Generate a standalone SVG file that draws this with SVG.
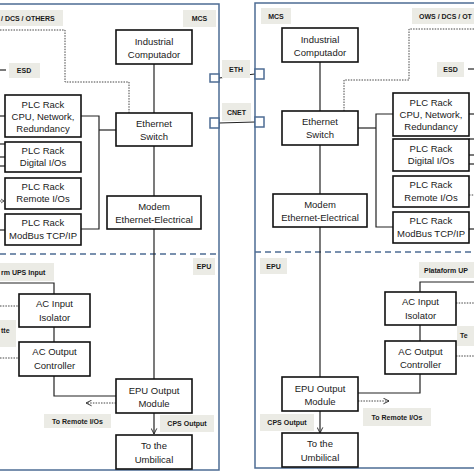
<svg xmlns="http://www.w3.org/2000/svg" width="474" height="474" viewBox="0 0 474 474">
<defs>
<style>
.box{fill:#fff;stroke:#111;stroke-width:1.6}
.lbl{fill:#ebebe5;stroke:none}
.t{font-family:"Liberation Sans",Arial,sans-serif;font-size:9.5px;fill:#1a1a1a;text-anchor:middle}
.tl{font-family:"Liberation Sans",Arial,sans-serif;font-size:7px;font-weight:bold;fill:#1a1a1a;text-anchor:middle}
.ln{fill:none;stroke:#222;stroke-width:1.2}
.dot{fill:none;stroke:#444;stroke-width:1;stroke-dasharray:1.5 1.2}
.panel{fill:none;stroke:#4d6c94;stroke-width:1.5}
.sep{fill:none;stroke:#4d6c94;stroke-width:1.5;stroke-dasharray:6 4}
.port{fill:#fff;stroke:#4d6c94;stroke-width:1.5}
</style>
<marker id="open" viewBox="0 0 10 10" refX="9" refY="5" markerWidth="7" markerHeight="7" orient="auto" markerUnits="userSpaceOnUse">
<path d="M1,1 L9,5 L1,9" fill="none" stroke="#222" stroke-width="1.3"/>
</marker>
</defs>
<rect width="474" height="474" fill="#fff"/>

<!-- panels -->
<g id="panels">
<rect class="panel" x="-5" y="4" width="224" height="466"/>
<rect class="panel" x="255" y="3" width="230" height="465"/>
<line class="sep" x1="0" y1="254" x2="219" y2="254"/>
<line class="sep" x1="255" y1="252" x2="474" y2="252"/>
</g>

<!-- connectors -->
<g id="connectors">
<!-- left panel -->
<path class="dot" d="M0,30 H65 V82 H129 V113"/>
<line class="ln" x1="0" y1="70" x2="6" y2="70"/>
<line class="ln" x1="154" y1="64" x2="154" y2="113"/>
<line class="ln" x1="154" y1="146" x2="154" y2="196"/>
<line class="ln" x1="154" y1="229" x2="154" y2="379"/>
<path class="ln" d="M81,116 H99 V229 H81"/>
<line class="ln" x1="99" y1="130" x2="116" y2="130"/>
<line class="ln" x1="0" y1="116" x2="5" y2="116"/>
<line class="ln" x1="0" y1="144" x2="5" y2="144"/>
<line class="ln" x1="0" y1="157" x2="5" y2="157"/>
<line class="ln" x1="0" y1="166" x2="5" y2="166"/>
<path class="dot" d="M0,201 H4"/>
<path d="M1,199 L4,201 L1,203" fill="none" stroke="#444" stroke-width="0.8"/>
<line class="ln" x1="0" y1="230" x2="5" y2="230"/>
<path class="ln" d="M0,283 H54 V294"/>
<line class="dot" x1="0" y1="306" x2="19" y2="306"/>
<line class="ln" x1="54" y1="327" x2="54" y2="342"/>
<line class="dot" x1="0" y1="358" x2="19" y2="358"/>
<path class="ln" d="M54,376 V396 H116"/>
<line class="dot" x1="116" y1="403" x2="86" y2="403" marker-end="url(#open)"/>
<line class="ln" x1="154" y1="413" x2="154" y2="434" marker-end="url(#open)"/>

<!-- right panel -->
<path class="dot" d="M474,29 H409 V80 H344 V111"/>
<line class="ln" x1="468" y1="69" x2="474" y2="69"/>
<line class="ln" x1="320" y1="62" x2="320" y2="111"/>
<line class="ln" x1="320" y1="145" x2="320" y2="194"/>
<line class="ln" x1="320" y1="227" x2="320" y2="377"/>
<path class="ln" d="M393,114 H376 V227 H393"/>
<line class="ln" x1="358" y1="128" x2="376" y2="128"/>
<line class="ln" x1="469" y1="114" x2="474" y2="114"/>
<line class="ln" x1="469" y1="139" x2="474" y2="139"/>
<line class="ln" x1="469" y1="155" x2="474" y2="155"/>
<line class="ln" x1="469" y1="164" x2="474" y2="164"/>
<path class="dot" d="M469,195 H474"/>
<line class="ln" x1="469" y1="229" x2="474" y2="229"/>
<path class="ln" d="M474,282 H420 V292"/>
<line class="dot" x1="456" y1="303" x2="474" y2="303"/>
<line class="ln" x1="420" y1="325" x2="420" y2="341"/>
<line class="dot" x1="456" y1="356" x2="474" y2="356"/>
<path class="ln" d="M420,374 V393 H358"/>
<line class="dot" x1="358" y1="401" x2="389" y2="401" marker-end="url(#open)"/>
<line class="ln" x1="320" y1="411" x2="320" y2="433" marker-end="url(#open)"/>

<!-- inter-panel -->
<line class="ln" x1="219" y1="78" x2="255" y2="74" stroke="#4d6c94"/>
<line class="ln" x1="219" y1="123" x2="255" y2="122" stroke="#4d6c94"/>
</g>

<!-- ports -->
<g id="ports">
<rect class="port" x="210" y="74" width="9" height="8"/>
<rect class="port" x="255" y="69" width="9" height="10"/>
<rect class="port" x="210" y="118" width="9" height="10"/>
<rect class="port" x="255" y="117" width="9" height="10"/>
</g>

<!-- labels -->
<g id="label-eth"><rect class="lbl" x="222" y="60" width="28" height="18"/><text class="tl" x="236" y="72">ETH</text></g>
<g id="label-cnet"><rect class="lbl" x="222" y="103" width="29" height="18"/><text class="tl" x="236.5" y="115">CNET</text></g>

<g id="l-others"><rect class="lbl" x="0" y="10" width="63" height="16"/><text class="tl" x="1" y="21" style="text-anchor:start">/ DCS / OTHERS</text></g>
<g id="l-mcs"><rect class="lbl" x="183" y="10" width="33" height="17"/><text class="tl" x="199.5" y="21">MCS</text></g>
<g id="l-esd"><rect class="lbl" x="9" y="63" width="31" height="15"/><text class="tl" x="24" y="73">ESD</text></g>
<g id="l-epu"><rect class="lbl" x="193" y="258" width="22" height="17"/><text class="tl" x="204" y="269">EPU</text></g>
<g id="l-ups"><rect class="lbl" x="0" y="263" width="54" height="18"/><text class="tl" x="1" y="275" style="text-anchor:start">rm UPS Input</text></g>
<g id="l-te"><rect class="lbl" x="0" y="320" width="16" height="27"/><text class="tl" x="1" y="333" style="text-anchor:start">tte</text></g>
<g id="l-remote"><rect class="lbl" x="44" y="414" width="67" height="14"/><text class="tl" x="77.5" y="424">To Remote I/Os</text></g>
<g id="l-cps"><rect class="lbl" x="160" y="415" width="54" height="17"/><text class="tl" x="187" y="426">CPS Output</text></g>

<g id="r-mcs"><rect class="lbl" x="261" y="8" width="30" height="16"/><text class="tl" x="276" y="19">MCS</text></g>
<g id="r-others"><rect class="lbl" x="412" y="8" width="62" height="16"/><text class="tl" x="419" y="19" style="text-anchor:start">OWS / DCS / OT</text></g>
<g id="r-esd"><rect class="lbl" x="437" y="62" width="27" height="15"/><text class="tl" x="450.5" y="72">ESD</text></g>
<g id="r-epu"><rect class="lbl" x="260" y="258" width="27" height="16"/><text class="tl" x="273.5" y="269">EPU</text></g>
<g id="r-ups"><rect class="lbl" x="419" y="262" width="55" height="16"/><text class="tl" x="424" y="273" style="text-anchor:start">Plataform UP</text></g>
<g id="r-te"><rect class="lbl" x="457" y="326" width="17" height="20"/><text class="tl" x="460" y="338" style="text-anchor:start">Te</text></g>
<g id="r-remote"><rect class="lbl" x="363" y="408" width="68" height="18"/><text class="tl" x="397" y="420">To Remote I/Os</text></g>
<g id="r-cps"><rect class="lbl" x="260" y="414" width="54" height="17"/><text class="tl" x="287" y="425">CPS Output</text></g>

<!-- left nodes -->
<g id="l-ic"><rect class="box" x="116" y="30" width="76" height="34"/><text class="t" x="154" y="45">Industrial</text><text class="t" x="154" y="58">Computador</text></g>
<g id="l-sw"><rect class="box" x="116" y="113" width="76" height="33"/><text class="t" x="154" y="127">Ethernet</text><text class="t" x="154" y="140">Switch</text></g>
<g id="l-modem"><rect class="box" x="107" y="196" width="94" height="33"/><text class="t" x="154" y="210">Modem</text><text class="t" x="154" y="223">Ethernet-Electrical</text></g>
<g id="l-cpu"><rect class="box" x="5" y="95" width="76" height="42"/><text class="t" x="43" y="108">PLC Rack</text><text class="t" x="43" y="120">CPU, Network,</text><text class="t" x="43" y="132">Redundancy</text></g>
<g id="l-dig"><rect class="box" x="5" y="142" width="76" height="30"/><text class="t" x="43" y="154">PLC Rack</text><text class="t" x="43" y="166">Digital I/Os</text></g>
<g id="l-rem"><rect class="box" x="5" y="178" width="76" height="31"/><text class="t" x="43" y="190">PLC Rack</text><text class="t" x="43" y="202">Remote I/Os</text></g>
<g id="l-mod"><rect class="box" x="5" y="214" width="76" height="31"/><text class="t" x="43" y="226">PLC Rack</text><text class="t" x="43" y="239">ModBus TCP/IP</text></g>
<g id="l-aci"><rect class="box" x="19" y="294" width="71" height="33"/><text class="t" x="54.5" y="307">AC Input</text><text class="t" x="54.5" y="321">Isolator</text></g>
<g id="l-aco"><rect class="box" x="19" y="342" width="71" height="34"/><text class="t" x="54.5" y="355">AC Output</text><text class="t" x="54.5" y="369">Controller</text></g>
<g id="l-epum"><rect class="box" x="116" y="379" width="76" height="34"/><text class="t" x="154" y="394">EPU Output</text><text class="t" x="154" y="407">Module</text></g>
<g id="l-umb"><rect class="box" x="116" y="435" width="76" height="34"/><text class="t" x="154" y="449">To the</text><text class="t" x="154" y="463">Umbilical</text></g>

<!-- right nodes -->
<g id="r-ic"><rect class="box" x="282" y="28" width="76" height="34"/><text class="t" x="320" y="43">Industrial</text><text class="t" x="320" y="56">Computador</text></g>
<g id="r-sw"><rect class="box" x="282" y="111" width="76" height="34"/><text class="t" x="320" y="125">Ethernet</text><text class="t" x="320" y="138">Switch</text></g>
<g id="r-modem"><rect class="box" x="273" y="194" width="94" height="33"/><text class="t" x="320" y="208">Modem</text><text class="t" x="320" y="221">Ethernet-Electrical</text></g>
<g id="r-cpu"><rect class="box" x="393" y="93" width="76" height="43"/><text class="t" x="431" y="106">PLC Rack</text><text class="t" x="431" y="118">CPU, Network,</text><text class="t" x="431" y="130">Redundancy</text></g>
<g id="r-dig"><rect class="box" x="393" y="139" width="76" height="32"/><text class="t" x="431" y="152">PLC Rack</text><text class="t" x="431" y="164">Digital I/Os</text></g>
<g id="r-rem"><rect class="box" x="393" y="176" width="76" height="31"/><text class="t" x="431" y="188">PLC Rack</text><text class="t" x="431" y="201">Remote I/Os</text></g>
<g id="r-mod"><rect class="box" x="393" y="212" width="76" height="31"/><text class="t" x="431" y="224">PLC Rack</text><text class="t" x="431" y="237">ModBus TCP/IP</text></g>
<g id="r-aci"><rect class="box" x="385" y="292" width="71" height="33"/><text class="t" x="420.5" y="305">AC Input</text><text class="t" x="420.5" y="319">Isolator</text></g>
<g id="r-aco"><rect class="box" x="385" y="341" width="71" height="33"/><text class="t" x="420.5" y="355">AC Output</text><text class="t" x="420.5" y="368">Controller</text></g>
<g id="r-epum"><rect class="box" x="282" y="377" width="76" height="34"/><text class="t" x="320" y="392">EPU Output</text><text class="t" x="320" y="405">Module</text></g>
<g id="r-umb"><rect class="box" x="282" y="433" width="76" height="34"/><text class="t" x="320" y="447">To the</text><text class="t" x="320" y="461">Umbilical</text></g>
</svg>
